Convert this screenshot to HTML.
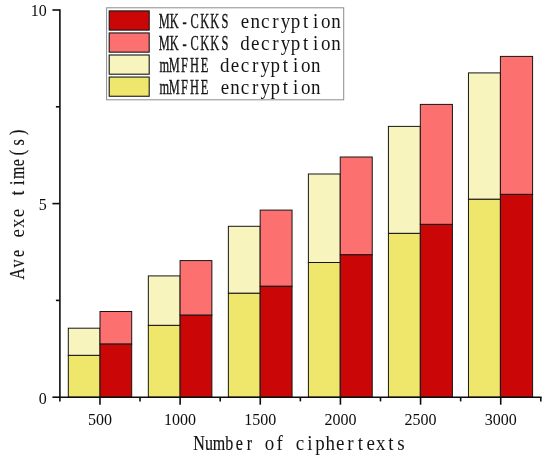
<!DOCTYPE html>
<html lang="en"><head><meta charset="utf-8"><title>Ave exe time vs. number of ciphertexts</title>
<style>
html,body{margin:0;padding:0;background:#fff;}
body{width:550px;height:460px;overflow:hidden;}
svg{display:block;}
.tick{font-family:"Liberation Serif",serif;font-size:16px;fill:#0d0d0d;}
.lab{font-family:"Liberation Serif",serif;font-size:20px;fill:#141414;}
</style></head><body>
<svg width="550" height="460" viewBox="0 0 550 460">
<rect width="550" height="460" fill="#fff"/>
<g stroke="#161616" stroke-width="1" stroke-linejoin="miter">
<rect x="68.30" y="328.20" width="31.70" height="27.20" fill="#f7f4be"/>
<rect x="68.30" y="355.40" width="31.70" height="41.80" fill="#eee76c"/>
<rect x="100.00" y="311.50" width="31.70" height="32.60" fill="#fc7170"/>
<rect x="100.00" y="344.10" width="31.70" height="53.10" fill="#cb0607"/>
<rect x="148.33" y="275.90" width="31.75" height="49.50" fill="#f7f4be"/>
<rect x="148.33" y="325.40" width="31.75" height="71.80" fill="#eee76c"/>
<rect x="180.08" y="260.60" width="31.80" height="54.60" fill="#fc7170"/>
<rect x="180.08" y="315.20" width="31.80" height="82.00" fill="#cb0607"/>
<rect x="228.36" y="226.30" width="31.80" height="67.00" fill="#f7f4be"/>
<rect x="228.36" y="293.30" width="31.80" height="103.90" fill="#eee76c"/>
<rect x="260.16" y="210.10" width="31.90" height="76.20" fill="#fc7170"/>
<rect x="260.16" y="286.30" width="31.90" height="110.90" fill="#cb0607"/>
<rect x="308.39" y="174.00" width="31.85" height="88.50" fill="#f7f4be"/>
<rect x="308.39" y="262.50" width="31.85" height="134.70" fill="#eee76c"/>
<rect x="340.24" y="157.00" width="32.00" height="97.80" fill="#fc7170"/>
<rect x="340.24" y="254.80" width="32.00" height="142.40" fill="#cb0607"/>
<rect x="388.42" y="126.40" width="31.90" height="107.00" fill="#f7f4be"/>
<rect x="388.42" y="233.40" width="31.90" height="163.80" fill="#eee76c"/>
<rect x="420.32" y="104.40" width="32.10" height="120.00" fill="#fc7170"/>
<rect x="420.32" y="224.40" width="32.10" height="172.80" fill="#cb0607"/>
<rect x="468.45" y="72.90" width="31.95" height="126.40" fill="#f7f4be"/>
<rect x="468.45" y="199.30" width="31.95" height="197.90" fill="#eee76c"/>
<rect x="500.40" y="56.40" width="32.20" height="138.00" fill="#fc7170"/>
<rect x="500.40" y="194.40" width="32.20" height="202.80" fill="#cb0607"/>
</g>
<g stroke="#0d0d0d" stroke-width="1.6" fill="none" stroke-linecap="butt">
<path d="M59.90 9.20V398.00"/>
<path d="M59.10 397.20H541.60"/>
<path d="M52.40 397.20H59.90"/>
<path d="M55.90 300.40H59.90"/>
<path d="M52.40 203.60H59.90"/>
<path d="M55.90 106.80H59.90"/>
<path d="M52.40 10.00H59.90"/>
<path d="M59.90 397.20v4.2"/>
<path d="M140.05 397.20v4.2"/>
<path d="M220.20 397.20v4.2"/>
<path d="M300.35 397.20v4.2"/>
<path d="M380.50 397.20v4.2"/>
<path d="M460.65 397.20v4.2"/>
<path d="M540.80 397.20v4.2"/>
<path d="M99.97 397.20v7.5"/>
<path d="M180.12 397.20v7.5"/>
<path d="M260.27 397.20v7.5"/>
<path d="M340.42 397.20v7.5"/>
<path d="M420.57 397.20v7.5"/>
<path d="M500.72 397.20v7.5"/>
</g>
<g class="tick">
<text x="46.8" y="16.30" text-anchor="end">10</text>
<text x="46.8" y="209.90" text-anchor="end">5</text>
<text x="46.8" y="403.50" text-anchor="end">0</text>
<text x="99.97" y="424.8" text-anchor="middle">500</text>
<text x="180.12" y="424.8" text-anchor="middle">1000</text>
<text x="260.27" y="424.8" text-anchor="middle">1500</text>
<text x="340.42" y="424.8" text-anchor="middle">2000</text>
<text x="420.57" y="424.8" text-anchor="middle">2500</text>
<text x="500.72" y="424.8" text-anchor="middle">3000</text>
</g>
<rect x="106.6" y="7.8" width="237.1" height="92" fill="#fff" stroke="#8c8c8c" stroke-width="1"/>
<g stroke="#161616" stroke-width="1.1">
<rect x="109.2" y="10.90" width="40" height="19.2" fill="#cb0607"/>
<rect x="109.2" y="32.95" width="40" height="19.2" fill="#fc7170"/>
<rect x="109.2" y="55.00" width="40" height="19.2" fill="#f7f4be"/>
<rect x="109.2" y="77.05" width="40" height="19.2" fill="#eee76c"/>
</g>
<text class="lab" stroke="#141414" stroke-width="0.35" transform="translate(159.20 27.75) scale(0.62 1)" x="8.15 24.44 40.73 57.02 73.31 89.60 105.89" y="0" text-anchor="middle">MK-CKKS</text>
<text class="lab" transform="translate(240.00 27.75) scale(0.95 1)" x="5.32 15.95 26.58 37.21 47.84 58.47 69.11 79.74 90.37 101.00" y="0" text-anchor="middle">encryption</text>
<text class="lab" stroke="#141414" stroke-width="0.35" transform="translate(159.20 49.75) scale(0.62 1)" x="8.15 24.44 40.73 57.02 73.31 89.60 105.89" y="0" text-anchor="middle">MK-CKKS</text>
<text class="lab" transform="translate(240.00 49.75) scale(0.95 1)" x="5.32 15.95 26.58 37.21 47.84 58.47 69.11 79.74 90.37 101.00" y="0" text-anchor="middle">decryption</text>
<text class="lab" stroke="#141414" stroke-width="0.35" transform="translate(159.20 71.75) scale(0.62 1)" x="8.15 24.44 40.73 57.02 73.31" y="0" text-anchor="middle">mMFHE</text>
<text class="lab" transform="translate(219.80 71.75) scale(0.95 1)" x="5.32 15.95 26.58 37.21 47.84 58.47 69.11 79.74 90.37 101.00" y="0" text-anchor="middle">decryption</text>
<text class="lab" stroke="#141414" stroke-width="0.35" transform="translate(159.20 93.75) scale(0.62 1)" x="8.15 24.44 40.73 57.02 73.31" y="0" text-anchor="middle">mMFHE</text>
<text class="lab" transform="translate(219.80 93.75) scale(0.95 1)" x="5.32 15.95 26.58 37.21 47.84 58.47 69.11 79.74 90.37 101.00" y="0" text-anchor="middle">encryption</text>
<text class="lab" stroke="#141414" stroke-width="0.2" transform="translate(193.85 450.40) scale(0.8 1)" x="6.31 18.94 31.56 44.19 56.81 69.44" y="0" text-anchor="middle">Number</text>
<text class="lab" transform="translate(264.55 450.40) scale(0.95 1)" x="5.32 15.95" y="0" text-anchor="middle">of</text>
<text class="lab" transform="translate(294.85 450.40) scale(0.95 1)" x="5.32 15.95 26.58 37.21 47.84 58.47 69.11 79.74 90.37 101.00 111.63" y="0" text-anchor="middle">ciphertexts</text>
<g transform="translate(23.9 278.75) rotate(-90)"><text class="lab" stroke="#141414" stroke-width="0.2" transform="translate(0.00 0.00) scale(0.8 1)" x="6.31 18.94 31.56" y="0" text-anchor="middle">Ave</text>
<text class="lab" transform="translate(40.40 0.00) scale(0.95 1)" x="5.32 15.95 26.58" y="0" text-anchor="middle">exe</text>
<text class="lab" stroke="#141414" stroke-width="0.2" transform="translate(80.80 0.00) scale(0.8 1)" x="6.31 18.94 31.56 44.19 56.81 69.44 82.06" y="0" text-anchor="middle">time(s)</text></g>
</svg></body></html>
